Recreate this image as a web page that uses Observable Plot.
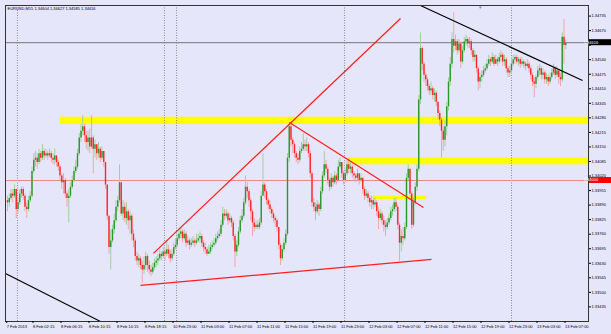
<!DOCTYPE html>
<html><head><meta charset="utf-8">
<script src="https://cdn.jsdelivr.net/npm/d3@7"></script>
<script src="https://cdn.jsdelivr.net/npm/@observablehq/plot@0.6"></script>
<style>html,body{margin:0;padding:0;background:#e6e6fa;}svg{display:block}</style>
</head><body><div id="chart"></div>
<script>
const chartTitle = "EURUSD,M15 1.34604 1.34627 1.34585 1.34616";
const firstOpen = 1.3391;
const closes = [
1.3390,1.3392,1.3394,1.3393,1.3396,1.3387,1.3390,1.3394,1.3396,1.3393,
1.3388,1.3387,1.3391,1.3393,1.3404,1.3409,1.3410,1.3408,1.3412,1.3410,
1.3413,1.3411,1.3412,1.3411,1.3412,1.3410,1.3409,1.3411,1.3408,1.3406,
1.3402,1.3399,1.3400,1.3394,1.3392,1.3393,1.3397,1.3400,1.3404,1.3406,
1.3412,1.3419,1.3422,1.3424,1.3420,1.3417,1.3419,1.3415,1.3419,1.3414,
1.3416,1.3412,1.3414,1.3410,1.3413,1.3408,1.3398,1.3384,1.3370,1.3373,
1.3378,1.3382,1.3388,1.3391,1.3399,1.3385,1.3388,1.3383,1.3386,1.3382,
1.3384,1.3376,1.3373,1.3366,1.3364,1.3365,1.3362,1.3360,1.3362,1.3366,
1.3362,1.3360,1.3359,1.3361,1.3363,1.3364,1.3365,1.3367,1.3366,1.3368,
1.3367,1.3369,1.3367,1.3365,1.3367,1.3370,1.3371,1.3374,1.3376,1.3377,
1.3374,1.3376,1.3372,1.3373,1.3371,1.3372,1.3373,1.3372,1.3373,1.3374,
1.3375,1.3372,1.3370,1.3369,1.3367,1.3368,1.3370,1.3371,1.3372,1.3374,
1.3375,1.3376,1.3380,1.3385,1.3384,1.3385,1.3382,1.3383,1.3381,1.3375,
1.3368,1.3371,1.3377,1.3382,1.3384,1.3390,1.3397,1.3395,1.3391,1.3386,
1.3381,1.3379,1.3380,1.3379,1.3381,1.3393,1.3398,1.3395,1.3391,1.3389,
1.3387,1.3385,1.3383,1.3382,1.3379,1.3371,1.3365,1.3369,1.3372,1.3376,
1.3410,1.3424,1.3418,1.3416,1.3412,1.3410,1.3409,1.3413,1.3414,1.3416,
1.3415,1.3416,1.3412,1.3403,1.3390,1.3388,1.3386,1.3389,1.3387,1.3395,
1.3402,1.3407,1.3405,1.3400,1.3397,1.3401,1.3399,1.3402,1.3400,1.3406,
1.3408,1.3403,1.3400,1.3403,1.3407,1.3405,1.3406,1.3403,1.3402,1.3401,
1.3403,1.3400,1.3401,1.3396,1.3393,1.3394,1.3392,1.3390,1.3391,1.3389,
1.3390,1.3386,1.3383,1.3385,1.3382,1.3380,1.3379,1.3381,1.3383,1.3386,
1.3387,1.3390,1.3388,1.3380,1.3372,1.3375,1.3374,1.3379,1.3401,1.3405,
1.3394,1.3380,1.3390,1.3397,1.3405,1.3436,1.3459,1.3452,1.3447,1.3445,
1.3442,1.3440,1.3441,1.3438,1.3439,1.3435,1.3430,1.3427,1.3422,1.3418,
1.3424,1.3433,1.3444,1.3452,1.3463,1.3460,1.3462,1.3458,1.3461,1.3453,
1.3458,1.3462,1.3463,1.3461,1.3462,1.3458,1.3455,1.3456,1.3450,1.3444,
1.3446,1.3447,1.3449,1.3450,1.3452,1.3454,1.3453,1.3455,1.3452,1.3454,
1.3453,1.3455,1.3456,1.3453,1.3454,1.3450,1.3448,1.3449,1.3452,1.3454,
1.3455,1.3453,1.3454,1.3452,1.3453,1.3452,1.3451,1.3452,1.3450,1.3447,
1.3444,1.3443,1.3446,1.3449,1.3450,1.3447,1.3448,1.3445,1.3446,1.3444,
1.3446,1.3448,1.3450,1.3447,1.3449,1.3446,1.3445,1.3464,1.34604,1.34616
];
const highs = [
1.3393,1.3394,1.3396,1.3396,1.3398,1.3396,1.3392,1.3396,1.3397,1.3397,
1.3394,1.3390,1.3393,1.3395,1.3406,1.3412,1.3413,1.3412,1.3414,1.3413,
1.3416,1.3414,1.3414,1.3413,1.3414,1.3413,1.3412,1.3414,1.3411,1.3409,
1.3407,1.3403,1.3403,1.3401,1.3395,1.3396,1.3399,1.3402,1.3406,1.3409,
1.3414,1.3421,1.3425,1.3429,1.3425,1.3422,1.3422,1.3423,1.3429,1.3420,
1.3418,1.3416,1.3417,1.3415,1.3415,1.3413,1.3408,1.3398,1.3384,1.3378,
1.3380,1.3385,1.3391,1.3393,1.3407,1.3399,1.3391,1.3390,1.3390,1.3387,
1.3386,1.3385,1.3378,1.3374,1.3368,1.3367,1.3366,1.3364,1.3366,1.3368,
1.3367,1.3364,1.3362,1.3363,1.3365,1.3366,1.3367,1.3369,1.3368,1.3370,
1.3369,1.3373,1.3371,1.3369,1.3369,1.3372,1.3374,1.3376,1.3378,1.3379,
1.3378,1.3378,1.3377,1.3375,1.3374,1.3374,1.3375,1.3374,1.3376,1.3376,
1.3377,1.3376,1.3373,1.3372,1.3370,1.3371,1.3372,1.3373,1.3374,1.3376,
1.3377,1.3378,1.3382,1.3388,1.3387,1.3387,1.3386,1.3385,1.3384,1.3382,
1.3376,1.3373,1.3379,1.3384,1.3387,1.3392,1.3402,1.3399,1.3396,1.3392,
1.3387,1.3383,1.3382,1.3382,1.3383,1.3395,1.3412,1.3399,1.3396,1.3392,
1.3391,1.3388,1.3386,1.3384,1.3383,1.3379,1.3372,1.3371,1.3374,1.3378,
1.3412,1.3426,1.3425,1.3419,1.3417,1.3413,1.3412,1.3415,1.3417,1.3421,
1.3418,1.3419,1.3417,1.3413,1.3404,1.3392,1.3390,1.3391,1.3390,1.3397,
1.3404,1.3413,1.3409,1.3406,1.3401,1.3403,1.3402,1.3404,1.3403,1.3409,
1.3410,1.3408,1.3404,1.3405,1.3409,1.3410,1.3408,1.3407,1.3404,1.3403,
1.3405,1.3403,1.3403,1.3401,1.3397,1.3396,1.3395,1.3393,1.3393,1.3392,
1.3392,1.3391,1.3388,1.3387,1.3386,1.3384,1.3382,1.3383,1.3385,1.3388,
1.3389,1.3392,1.3392,1.3389,1.3381,1.3378,1.3379,1.3381,1.3403,1.3407,
1.3405,1.3395,1.3392,1.3399,1.3407,1.3438,1.3466,1.3460,1.3453,1.3448,
1.3446,1.3443,1.3444,1.3442,1.3441,1.3440,1.3435,1.3431,1.3428,1.3424,
1.3427,1.3435,1.3446,1.3455,1.3466,1.3475,1.3465,1.3463,1.3463,1.3462,
1.3460,1.3464,1.3465,1.3464,1.3464,1.3463,1.3459,1.3458,1.3456,1.3451,
1.3448,1.3449,1.3451,1.3452,1.3454,1.3456,1.3455,1.3457,1.3456,1.3456,
1.3455,1.3457,1.3458,1.3457,1.3456,1.3455,1.3451,1.3451,1.3454,1.3456,
1.3456,1.3456,1.3455,1.3455,1.3455,1.3454,1.3453,1.3454,1.3453,1.3451,
1.3448,1.3446,1.3447,1.3451,1.3452,1.3451,1.3450,1.3449,1.3448,1.3447,
1.3448,1.3450,1.3452,1.3451,1.3451,1.3449,1.3448,1.3466,1.3472,1.34627
];
const lows = [
1.3386,1.3388,1.3391,1.3390,1.3392,1.3383,1.3385,1.3389,1.3392,1.3391,
1.3386,1.3383,1.3386,1.3390,1.3392,1.3403,1.3406,1.3405,1.3407,1.3408,
1.3409,1.3409,1.3410,1.3409,1.3410,1.3408,1.3407,1.3407,1.3406,1.3404,
1.3400,1.3396,1.3394,1.3392,1.3388,1.3381,1.3392,1.3396,1.3399,1.3403,
1.3405,1.3411,1.3417,1.3420,1.3417,1.3414,1.3413,1.3412,1.3414,1.3403,
1.3410,1.3409,1.3410,1.3408,1.3409,1.3406,1.3396,1.3382,1.3367,1.3360,
1.3372,1.3376,1.3381,1.3386,1.3390,1.3384,1.3382,1.3381,1.3380,1.3378,
1.3376,1.3373,1.3370,1.3364,1.3362,1.3361,1.3360,1.3354,1.3358,1.3360,
1.3359,1.3358,1.3357,1.3358,1.3360,1.3361,1.3362,1.3364,1.3364,1.3365,
1.3364,1.3366,1.3365,1.3363,1.3364,1.3366,1.3369,1.3370,1.3373,1.3374,
1.3372,1.3373,1.3370,1.3371,1.3369,1.3370,1.3371,1.3370,1.3371,1.3372,
1.3372,1.3370,1.3368,1.3367,1.3366,1.3367,1.3367,1.3369,1.3370,1.3371,
1.3373,1.3374,1.3375,1.3379,1.3382,1.3383,1.3380,1.3381,1.3379,1.3373,
1.3361,1.3366,1.3370,1.3376,1.3381,1.3383,1.3389,1.3392,1.3388,1.3382,
1.3375,1.3377,1.3378,1.3378,1.3378,1.3380,1.3394,1.3392,1.3389,1.3387,
1.3385,1.3383,1.3381,1.3379,1.3377,1.3369,1.3362,1.3364,1.3368,1.3371,
1.3375,1.3408,1.3415,1.3412,1.3410,1.3408,1.3407,1.3408,1.3412,1.3413,
1.3413,1.3413,1.3410,1.3401,1.3388,1.3386,1.3382,1.3385,1.3384,1.3386,
1.3394,1.3401,1.3403,1.3398,1.3395,1.3396,1.3397,1.3398,1.3398,1.3400,
1.3405,1.3401,1.3398,1.3399,1.3402,1.3403,1.3403,1.3401,1.3400,1.3399,
1.3400,1.3398,1.3399,1.3394,1.3391,1.3392,1.3390,1.3388,1.3387,1.3387,
1.3388,1.3384,1.3378,1.3382,1.3380,1.3377,1.3375,1.3378,1.3380,1.3382,
1.3384,1.3386,1.3386,1.3378,1.3364,1.3368,1.3371,1.3373,1.3378,1.3400,
1.3391,1.3378,1.3379,1.3389,1.3395,1.3404,1.3434,1.3449,1.3444,1.3442,
1.3440,1.3438,1.3438,1.3436,1.3435,1.3433,1.3427,1.3424,1.3410,1.3413,
1.3415,1.3420,1.3431,1.3442,1.3450,1.3457,1.3458,1.3456,1.3457,1.3450,
1.3452,1.3457,1.3460,1.3459,1.3459,1.3456,1.3453,1.3453,1.3448,1.3440,
1.3441,1.3444,1.3446,1.3448,1.3449,1.3451,1.3451,1.3452,1.3451,1.3452,
1.3451,1.3452,1.3453,1.3451,1.3451,1.3448,1.3446,1.3446,1.3448,1.3451,
1.3452,1.3452,1.3451,1.3450,1.3451,1.3450,1.3449,1.3450,1.3448,1.3445,
1.3442,1.3437,1.3441,1.3445,1.3447,1.3445,1.3445,1.3443,1.3443,1.3442,
1.3443,1.3445,1.3447,1.3445,1.3446,1.3443,1.3442,1.3444,1.3452,1.34585
];
const priceTicks = [1.34735,1.34670,1.34605,1.34540,1.34475,1.34410,1.34345,1.34280,1.34215,1.34150,1.34085,1.34020,1.33955,1.33890,1.33825,1.33760,1.33695,1.33630,1.33565,1.33500,1.33435];
const hiddenTick = 1.34605;
const timeTickBars = [-1,14,30,46,62,78,94,110,126,142,158,174,190,206,222,238,254,270,286,302,318];
const timeTickLabels = ["7 Feb 2013","8 Feb 02:15","8 Feb 06:15","8 Feb 10:15","8 Feb 14:15","8 Feb 18:15","10 Feb 23:00","11 Feb 03:00","11 Feb 07:00","11 Feb 11:00","11 Feb 15:00","11 Feb 19:00","11 Feb 23:00","12 Feb 03:00","12 Feb 07:00","12 Feb 11:00","12 Feb 15:00","12 Feb 19:00","12 Feb 23:00","13 Feb 03:00","13 Feb 07:00"];
const separatorBars = [5.7, 89.7, 96.6, 192.6, 288];
const zoneFrom = [30.3, 194.3, 209];
const zoneTo = [332, 332, 239.4];
const zoneLow = [1.34250, 1.34070, 1.33915];
const zoneHigh = [1.34283, 1.34101, 1.33930];
const lineBar1 = [83.4, 161.1, 76, 236, -1.14];
const linePrice1 = [1.33674, 1.34259, 1.33531, 1.34782, 1.33584];
const lineBar2 = [224.6, 237.7, 242.3, 328.6, 53.1];
const linePrice2 = [1.34724, 1.33879, 1.33647, 1.34447, 1.33370];
const lineColor = ["#ff1c1c", "#ff1c1c", "#ff1c1c", "#000000", "#000000"];
const levelPrice = 1.34000;
const lastPrice = 1.34616;
const shiftBar = 270.3;

const bars = closes.map((c, i) => ({i, open: i === 0 ? firstOpen : closes[i - 1], close: c, high: highs[i], low: lows[i]}));
bars.forEach(b => b.up = b.close >= b.open);
const zones = zoneFrom.map((f, k) => ({from: f, to: zoneTo[k], lo: zoneLow[k], hi: zoneHigh[k]}));
const lines = lineBar1.map((b, k) => ({b1: b, p1: linePrice1[k], b2: lineBar2[k], p2: linePrice2[k], c: lineColor[k]}));
const labelOf = new Map(timeTickBars.map((b, k) => [b, timeTickLabels[k]]));
const fmt = d3.format(".5f");
const tags = [{v: lastPrice, bg: "#000000"}, {v: levelPrice, bg: "#ff0000"}];

function tagMark(index, scales, values, dims) {
  const g = d3.create("svg:g");
  const x0 = dims.width - dims.marginRight;
  for (const t of tags) {
    const y = scales.y(t.v);
    g.append("rect").attr("x", x0 + 1).attr("y", y - 3).attr("width", dims.marginRight).attr("height", 6).attr("fill", t.bg);
    g.append("text").attr("x", x0 + 3).attr("y", y).attr("dy", "0.35em").attr("fill", "#fff").attr("font-size", 4).text(fmt(t.v));
  }
  return g.node();
}

const chart = Plot.plot({
  width: 611, height: 334,
  marginLeft: 5, marginRight: 23, marginTop: 5, marginBottom: 13,
  style: {background: "#e6e6fa", fontFamily: "Liberation Sans, Arial, sans-serif", fontSize: "4px", color: "#000", overflow: "visible"},
  x: {type: "linear", domain: [-1.143, 332], axis: null},
  y: {type: "linear", domain: [1.333697, 1.347823], axis: null},
  color: {type: "identity"},
  marks: [
    Plot.rect(zones, {x1: "from", x2: "to", y1: "lo", y2: "hi", fill: "#ffff00"}),
    Plot.ruleX(separatorBars, {stroke: "#777", strokeDasharray: "1,1.5", strokeWidth: 0.8}),
    Plot.ruleY([levelPrice], {stroke: "#e88a8a", strokeWidth: 1}),
    Plot.ruleY([lastPrice], {stroke: "#777", strokeWidth: 1}),
    Plot.ruleX(bars, {x: "i", y1: "low", y2: "high", stroke: d => d.up ? "#9fd19f" : "#f3a4ad", strokeWidth: 1}),
    Plot.ruleX(bars, {x: "i", y1: "open", y2: "close", stroke: d => d.up ? "#2a962a" : "#ff2424", strokeWidth: 1.4}),
    Plot.link(lines, {x1: "b1", y1: "p1", x2: "b2", y2: "p2", stroke: "c", strokeWidth: 1.2, clip: true}),
    Plot.frame({stroke: "#333", strokeWidth: 1}),
    Plot.axisY(priceTicks, {anchor: "right", tickFormat: d => d === hiddenTick ? "" : fmt(d), tickSize: 2, tickPadding: 1, fontSize: 4, label: null}),
    Plot.axisX(timeTickBars, {anchor: "bottom", tickFormat: d => labelOf.get(d), tickSize: 2, tickPadding: 2, fontSize: 4, textAnchor: "start", dx: 1, label: null}),
    Plot.text([chartTitle], {text: d => d, frameAnchor: "top-left", dx: 2, dy: 1.5, fontSize: 4, textAnchor: "start", lineAnchor: "top", fill: "#000"}),
    Plot.text([shiftBar], {x: d => d, text: () => "▾", frameAnchor: "top", lineAnchor: "top", fontSize: 5, fill: "#888"}),
    tagMark
  ]
});
document.getElementById("chart").appendChild(chart);
</script>
</body></html>
